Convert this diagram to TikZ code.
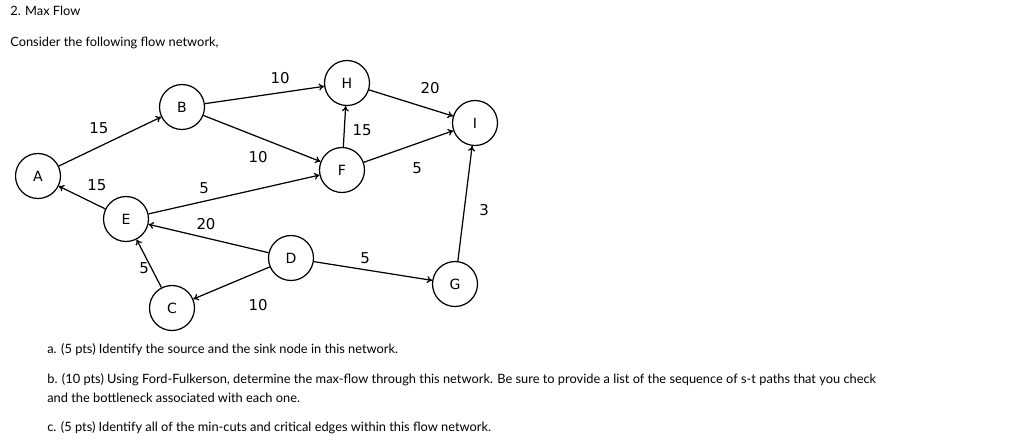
\documentclass[tikz,border=0pt]{standalone}
\usepackage{fontspec}
\setmainfont{Lato}
\newfontfamily\gfont{DejaVu Sans}
\usetikzlibrary{arrows.meta}
\begin{document}
\begin{tikzpicture}[x=0.02cm,y=-0.02cm,
  vert/.style={circle,draw,line width=0.7pt,minimum size=0.9cm,inner sep=0pt,font=\gfont\fontsize{8}{9}\selectfont},
  edge/.style={line width=0.7pt,-{To[length=3pt,width=4pt]}},
  wt/.style={font=\gfont\fontsize{8.5}{10}\selectfont},
  txt/.style={anchor=west,font=\fontsize{7.3}{9}\selectfont,inner sep=0pt}]
\useasboundingbox (0,0) rectangle (1024,443);
\node[vert] (A) at (38,176) {A};
\node[vert] (B) at (182,107) {B};
\node[vert] (H) at (347,83) {H};
\node[vert] (I) at (475,123) {I};
\node[vert] (F) at (342,170) {F};
\node[vert] (E) at (126,219) {E};
\node[vert] (D) at (291,258) {D};
\node[vert] (G) at (455,284) {G};
\node[vert] (C) at (172,308) {C};
\draw[edge] (A) -- (B);
\draw[edge] (B) -- (H);
\draw[edge] (B) -- (F);
\draw[edge] (H) -- (I);
\draw[edge] (F) -- (H);
\draw[edge] (F) -- (I);
\draw[edge] (E) -- (A);
\draw[edge] (E) -- (F);
\draw[edge] (D) -- (E);
\draw[edge] (C) -- (E);
\draw[edge] (D) -- (C);
\draw[edge] (D) -- (G);
\draw[edge] (G) -- (I);
\node[wt] (w1) at (280,78) {10};
\node[wt] (w2) at (430,88) {20};
\node[wt] (w3) at (99,128) {15};
\node[wt] (w4) at (362,130) {15};
\node[wt] (w5) at (258,157) {10};
\node[wt] (w6) at (417,168) {5};
\node[wt] (w7) at (97,185) {15};
\node[wt] (w8) at (204,188) {5};
\node[wt] (w9) at (484,210) {3};
\node[wt] (w10) at (206,224) {20};
\node[wt] (w11) at (144,268) {5};
\node[wt] (w12) at (365,258) {5};
\node[wt] (w13) at (258,305) {10};
\node[txt] (t1) at (10,11) {2. Max Flow};
\node[txt] (t2) at (10,43) {Consider the following flow network,};
\node[txt] (t3) at (47,350) {a. (5 pts) Identify the source and the sink node in this network.};
\node[txt] (t4) at (47,380) {b. (10 pts) Using Ford-Fulkerson, determine the max-flow through this network. Be sure to provide a list of the sequence of s-t paths that you check};
\node[txt] (t5) at (47,398) {and the bottleneck associated with each one.};
\node[txt] (t6) at (47,428) {c. (5 pts) Identify all of the min-cuts and critical edges within this flow network.};
\end{tikzpicture}
\end{document}
